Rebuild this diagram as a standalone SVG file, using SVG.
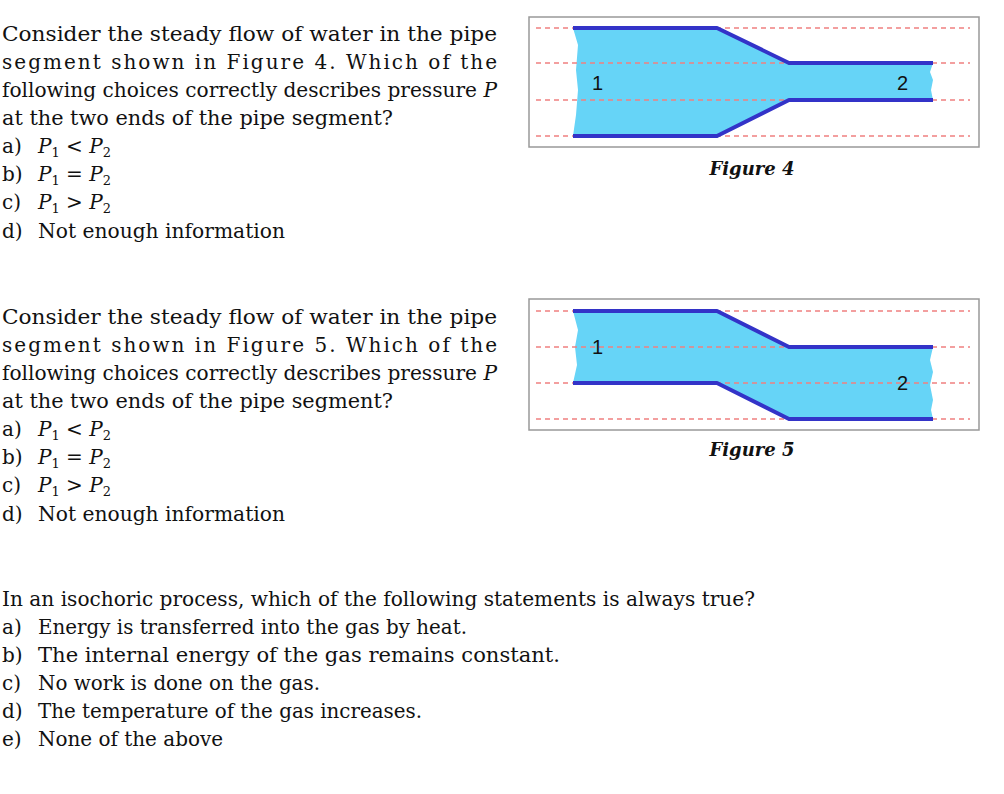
<svg xmlns="http://www.w3.org/2000/svg" width="1004" height="794" viewBox="0 0 1004 794">
<style>
text{font-family:"DejaVu Serif","Liberation Serif",serif;font-size:20px;fill:#111}
.i{font-style:italic}
.s{font-size:13px}
.cap{font-weight:bold;font-style:italic;font-size:18px}
.box{fill:#fff;stroke:#999;stroke-width:1.5}
.dash{stroke:#f08080;stroke-width:1.5;stroke-dasharray:5,4}
.fluid{fill:#66d4f7}
.wall{fill:none;stroke:#3333c8;stroke-width:4;stroke-linejoin:round}
.num{font-family:"Liberation Sans",sans-serif;font-size:20px}
</style>
<rect width="1004" height="794" fill="#fff"/>
<g id="q1">
<text x="2" y="41" textLength="495" lengthAdjust="spacingAndGlyphs">Consider the steady flow of water in the pipe</text>
<text x="2" y="69" textLength="495" lengthAdjust="spacing">segment shown in Figure 4.   Which of the</text>
<text x="2" y="97" textLength="495" lengthAdjust="spacingAndGlyphs">following choices correctly describes pressure <tspan class="i">P</tspan></text>
<text x="2" y="125" textLength="391" lengthAdjust="spacingAndGlyphs">at the two ends of the pipe segment?</text>
<text x="2" y="153">a)</text><text x="38" y="153"><tspan class="i">P</tspan><tspan class="s" dy="4">1</tspan><tspan dy="-4"> &lt; </tspan><tspan class="i">P</tspan><tspan class="s" dy="4">2</tspan></text>
<text x="2" y="181">b)</text><text x="38" y="181"><tspan class="i">P</tspan><tspan class="s" dy="4">1</tspan><tspan dy="-4"> = </tspan><tspan class="i">P</tspan><tspan class="s" dy="4">2</tspan></text>
<text x="2" y="209">c)</text><text x="38" y="209"><tspan class="i">P</tspan><tspan class="s" dy="4">1</tspan><tspan dy="-4"> &gt; </tspan><tspan class="i">P</tspan><tspan class="s" dy="4">2</tspan></text>
<text x="2" y="238">d)</text><text x="38" y="238" textLength="247" lengthAdjust="spacingAndGlyphs">Not enough information</text>
</g>
<g id="fig4">
<rect class="box" x="529" y="17" width="450" height="130"/>
<path class="fluid" d="M573,28 L717,28 L789,63 L933,63 L930,72 L933,80 L931,90 L933,100 L789,100 L717,136 L573,136 L576,115 L578,90 L576,70 L578,45 Z"/>
<g class="dash"><line x1="536" y1="28" x2="970" y2="28"/><line x1="536" y1="63" x2="970" y2="63"/><line x1="536" y1="100" x2="970" y2="100"/><line x1="536" y1="136" x2="970" y2="136"/></g>
<path class="wall" d="M573,28 L717,28 L789,63 L933,63"/>
<path class="wall" d="M573,136 L717,136 L789,100 L933,100"/>
<text class="num" x="592" y="90">1</text>
<text class="num" x="897" y="90">2</text>
<text class="cap" x="752" y="175" text-anchor="middle">Figure 4</text>
</g>
<g id="q2">
<text x="2" y="324" textLength="495" lengthAdjust="spacingAndGlyphs">Consider the steady flow of water in the pipe</text>
<text x="2" y="352" textLength="495" lengthAdjust="spacing">segment shown in Figure 5.   Which of the</text>
<text x="2" y="380" textLength="495" lengthAdjust="spacingAndGlyphs">following choices correctly describes pressure <tspan class="i">P</tspan></text>
<text x="2" y="408" textLength="391" lengthAdjust="spacingAndGlyphs">at the two ends of the pipe segment?</text>
<text x="2" y="436">a)</text><text x="38" y="436"><tspan class="i">P</tspan><tspan class="s" dy="4">1</tspan><tspan dy="-4"> &lt; </tspan><tspan class="i">P</tspan><tspan class="s" dy="4">2</tspan></text>
<text x="2" y="464">b)</text><text x="38" y="464"><tspan class="i">P</tspan><tspan class="s" dy="4">1</tspan><tspan dy="-4"> = </tspan><tspan class="i">P</tspan><tspan class="s" dy="4">2</tspan></text>
<text x="2" y="492">c)</text><text x="38" y="492"><tspan class="i">P</tspan><tspan class="s" dy="4">1</tspan><tspan dy="-4"> &gt; </tspan><tspan class="i">P</tspan><tspan class="s" dy="4">2</tspan></text>
<text x="2" y="521">d)</text><text x="38" y="521" textLength="247" lengthAdjust="spacingAndGlyphs">Not enough information</text>
</g>
<g id="fig5">
<rect class="box" x="529" y="299" width="450" height="131"/>
<path class="fluid" d="M573,311 L717,311 L789,347 L933,347 L930,360 L933,372 L930,385 L933,400 L931,410 L933,419 L789,419 L717,383 L573,383 L577,365 L575,347 L578,330 Z"/>
<g class="dash"><line x1="536" y1="311" x2="970" y2="311"/><line x1="536" y1="347" x2="970" y2="347"/><line x1="536" y1="383" x2="970" y2="383"/><line x1="536" y1="419" x2="970" y2="419"/></g>
<path class="wall" d="M573,311 L717,311 L789,347 L933,347"/>
<path class="wall" d="M573,383 L717,383 L789,419 L933,419"/>
<text class="num" x="592" y="354">1</text>
<text class="num" x="897" y="390">2</text>
<text class="cap" x="752" y="456" text-anchor="middle">Figure 5</text>
</g>
<g id="q3">
<text x="2" y="606" textLength="753" lengthAdjust="spacingAndGlyphs">In an isochoric process, which of the following statements is always true?</text>
<text x="2" y="634">a)</text><text x="38" y="634" textLength="429" lengthAdjust="spacingAndGlyphs">Energy is transferred into the gas by heat.</text>
<text x="2" y="662">b)</text><text x="38" y="662" textLength="522" lengthAdjust="spacingAndGlyphs">The internal energy of the gas remains constant.</text>
<text x="2" y="690">c)</text><text x="38" y="690" textLength="282" lengthAdjust="spacingAndGlyphs">No work is done on the gas.</text>
<text x="2" y="718">d)</text><text x="38" y="718" textLength="384" lengthAdjust="spacingAndGlyphs">The temperature of the gas increases.</text>
<text x="2" y="746">e)</text><text x="38" y="746" textLength="185" lengthAdjust="spacingAndGlyphs">None of the above</text>
</g>
</svg>
